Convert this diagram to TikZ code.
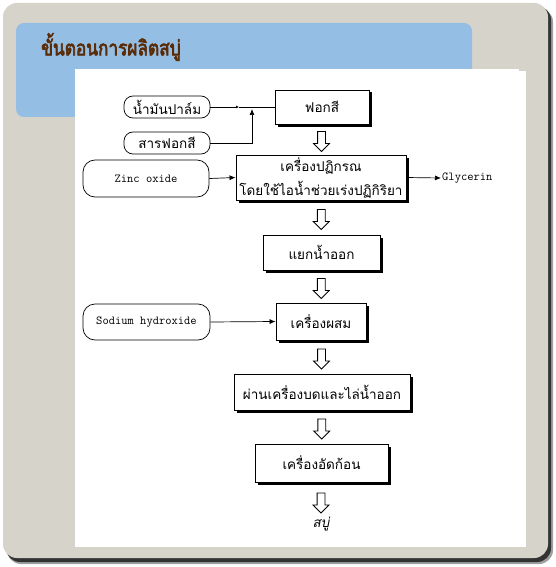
\documentclass[tikz,border=0pt]{standalone}
\usepackage{fontspec}
\usetikzlibrary{shapes.arrows,shadows,arrows.meta,calc}
\newfontfamily\thai[Script=Thai]{Loma}
\newfontfamily\thaislant[Script=Thai,FakeSlant=0.2]{Loma}
\newfontfamily\thaititle[Script=Thai,FakeBold=3,FakeStretch=0.82]{Loma}
\newfontfamily\latinmono{Latin Modern Mono}
\definecolor{panelgrey}{HTML}{D6D3CB}
\definecolor{panelblue}{HTML}{94BEE4}
\definecolor{titlebrown}{HTML}{5A2C08}
\tikzset{
  procbox/.style={draw=black, fill=white, line width=0.9pt, inner sep=2pt,
    font=\thai\fontsize{13.5}{24}\selectfont, align=center,
    drop shadow={shadow xshift=2.5pt, shadow yshift=-2.5pt, fill=black, opacity=1}},
  inbox/.style={draw=black, fill=white, line width=0.7pt, rounded corners=9pt, inner sep=2pt},
  thaiin/.style={font=\thai\fontsize{13.5}{15}\selectfont},
  latin/.style={font=\latinmono\fontsize{12.2}{14}\selectfont},
  harrow/.style={single arrow, draw=black, fill=white, line width=0.8pt,
    shape border rotate=270, inner sep=3.5pt, single arrow head extend=4pt,
    minimum height=20pt},
  conn/.style={line width=0.7pt},
  tip/.style={-{Latex[length=6pt,width=5pt]}}
}
\begin{document}
\begin{tikzpicture}[x=1pt,y=-1pt]
\useasboundingbox (0,0) rectangle (555,567);
% outer panel with shadow
\fill[black!75, opacity=0.5, rounded corners=14pt] (7,8) rectangle (553,564);
\fill[black!80, rounded corners=14pt] (6,6) rectangle (551,562);
\fill[panelgrey, rounded corners=14pt] (3,3) rectangle (548,558);
% blue panel
\fill[panelblue, rounded corners=8pt] (16,23) rectangle (472,117);
% title
\node[anchor=west, inner sep=0pt, text=titlebrown, font=\thaititle\fontsize{21}{24}\selectfont] (title) at (41,47) {ขั้นตอนการผลิตสบู่};
% white panel
\fill[white] (75,69) rectangle (519,547);
\fill[white] (75,71) rectangle (526,547);

% process boxes
\node[procbox, minimum width=94pt, minimum height=34pt] (fok) at (322,107) {ฟอกสี};
\node[procbox, minimum width=170pt, minimum height=45pt] (reactor) at (321,177.5) {เครื่องปฏิกรณ\\โดยใช้ไอน้ำช่วยเร่งปฏิกิริยา};
\node[procbox, minimum width=117pt, minimum height=35pt] (sep) at (321.5,252.5) {แยกน้ำออก};
\node[procbox, minimum width=90pt, minimum height=37pt] (mixer) at (321,321.5) {เครื่องผสม};
\node[procbox, minimum width=176pt, minimum height=36pt] (grind) at (322,392) {ผ่านเครื่องบดและไล่น้ำออก};
\node[procbox, minimum width=133pt, minimum height=38pt] (press) at (321.5,463) {เครื่องอัดก้อน};
\node[font=\thaislant\fontsize{13.5}{15}\selectfont] (soap) at (321,524) {สบู่};

% inputs
\node[inbox, thaiin, minimum width=86pt, minimum height=22pt] (oil) at (167,107) {น้ำมันปาล์ม};
\node[inbox, thaiin, minimum width=86pt, minimum height=22pt] (bleach) at (167,143) {สารฟอกสี};
\node[inbox, latin, rounded corners=12pt, minimum width=126pt, minimum height=37pt] (zinc) at (146,178.5) {Zinc oxide};
\node[inbox, latin, rounded corners=12pt, minimum width=127pt, minimum height=36pt] (naoh) at (146.5,322) {Sodium hydroxide};
\node[latin, anchor=west, inner sep=1pt] (gly) at (441,178) {Glycerin};

% connectors
\coordinate (m1) at (239,107);
\coordinate (j) at (252,109);
\draw[conn, -{Latex[length=3pt,width=3pt]}] (oil.east) -- (m1);
\draw[conn] (m1) -- (fok.west);
\draw[conn, tip] (bleach.east) -| (j);
\draw[conn, tip] (zinc.east) -- (reactor.west);
\draw[conn, tip] (reactor.east) -- (gly.west);
\draw[conn, tip] (naoh.east) -- (mixer.west);

% hollow arrows
\node[harrow] (a1) at ($(fok.south)!0.5!(reactor.north)$) {};
\node[harrow] (a2) at ($(reactor.south)!0.5!(sep.north)$) {};
\node[harrow] (a3) at ($(sep.south)!0.5!(mixer.north)$) {};
\node[harrow] (a4) at ($(mixer.south)!0.5!(grind.north)$) {};
\node[harrow] (a5) at ($(grind.south)!0.5!(press.north)$) {};
\node[harrow] (a6) at (321,501) {};
\end{tikzpicture}
\end{document}
